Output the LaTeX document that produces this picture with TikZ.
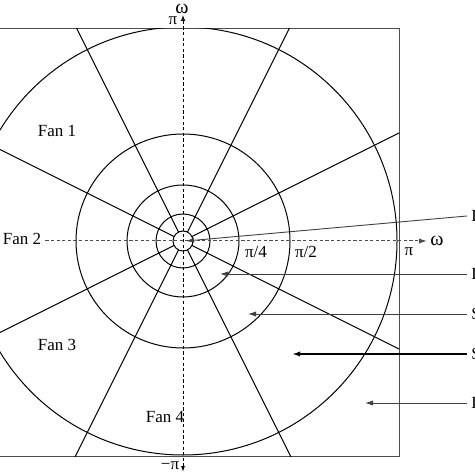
\documentclass[tikz,border=0pt]{standalone}
\usepackage{fontspec}
\setmainfont{Liberation Serif}
\usetikzlibrary{arrows.meta,calc}

\begin{document}
\begin{tikzpicture}[x=0.5pt,y=-0.5pt,
                    every node/.style={font=\fontsize{8.5}{10}\selectfont,inner sep=0pt},
                    omega/.style={font=\fontsize{10}{10}\selectfont},
                    thin line/.style={line width=0.5pt},
                    axis line/.style={line width=0.5pt,dash pattern=on 1.6pt off 1.2pt},
                    band arrow/.style={line width=0.45pt,black!75,-{Latex[length=4pt,width=2.6pt]}}]
                              \useasboundingbox (0,0) rectangle (474,474);
                              \clip (0,0) rectangle (474,474);
                              \coordinate (C) at (183,241);

                              % Frame and fans
                              \draw[thin line,black!70] (-33,29) rectangle (399,456);
                              \begin{scope}
                                    \clip (-33,29) rectangle (399,456);
                                    \foreach \r in {10,27,56,107,214}
                                          \draw[thin line] (C) circle (\r);
                                    \foreach \dx/\dy in {2/1,1/2,-1/2,-2/1,-2/-1,-1/-2,1/-2,2/-1}
                                          \draw[thin line] ($(C)+(\dx*4.47,\dy*4.47)$) -- ($(C)+(\dx*110,\dy*110)$);
                              \end{scope}

                              % Axes
                              \coordinate (wtop) at (183,15);
                              \coordinate (wbot) at (183,472);
                              \coordinate (wleft) at (-5,241);
                              \coordinate (wright) at (427,241);
                              \draw[axis line,{Latex[length=3pt,width=2pt]}-{Latex[length=3pt,width=2.4pt,open]}] (wbot) -- (wtop);
                              \draw[axis line,black!70,-{Latex[length=4pt,width=2.6pt]}] (wleft) -- (wright);
                              \node[omega] (omtop) at (182,9) {ω};
                              \node (pitop) at (173,21) {π};
                              \node (pibot) at (170,466) {−π};
                              \node[omega] (omright) at (437,241) {ω};
                              \node (piright) at (409,252) {π};
                              \node (piquart) at (256,252) {π/4};
                              \node (pihalf) at (306,252) {π/2};

                              % Fans
                              \node (fan1) at (57,131) {Fan 1};
                              \node[fill=white,inner sep=1.5pt] (fan2) at (22,239) {Fan 2};
                              \node (fan3) at (57,345) {Fan 3};
                              \node (fan4) at (165,417) {Fan 4};

                              % Bands
                              \foreach \n/\y/\txt in {1/216/L,2/274/L,3/314/S,4/354/S,5/403/L}
                                    \node[anchor=west] (lab\n) at (471,\y) {\txt};
                              \coordinate (tip1) at (186,241);
                              \coordinate (tip2) at (220,274);
                              \coordinate (tip3) at (248,314);
                              \coordinate (tip4) at (292,354);
                              \coordinate (tip5) at (365,403);
                              \foreach \n in {1,2,3,5}
                                    \draw[band arrow] (lab\n.west) ++(-4,0) -- (tip\n);
                              \draw[band arrow,line width=0.8pt,black] (lab4.west) ++(-4,0) -- (tip4);
                        \end{tikzpicture}
\end{document}
